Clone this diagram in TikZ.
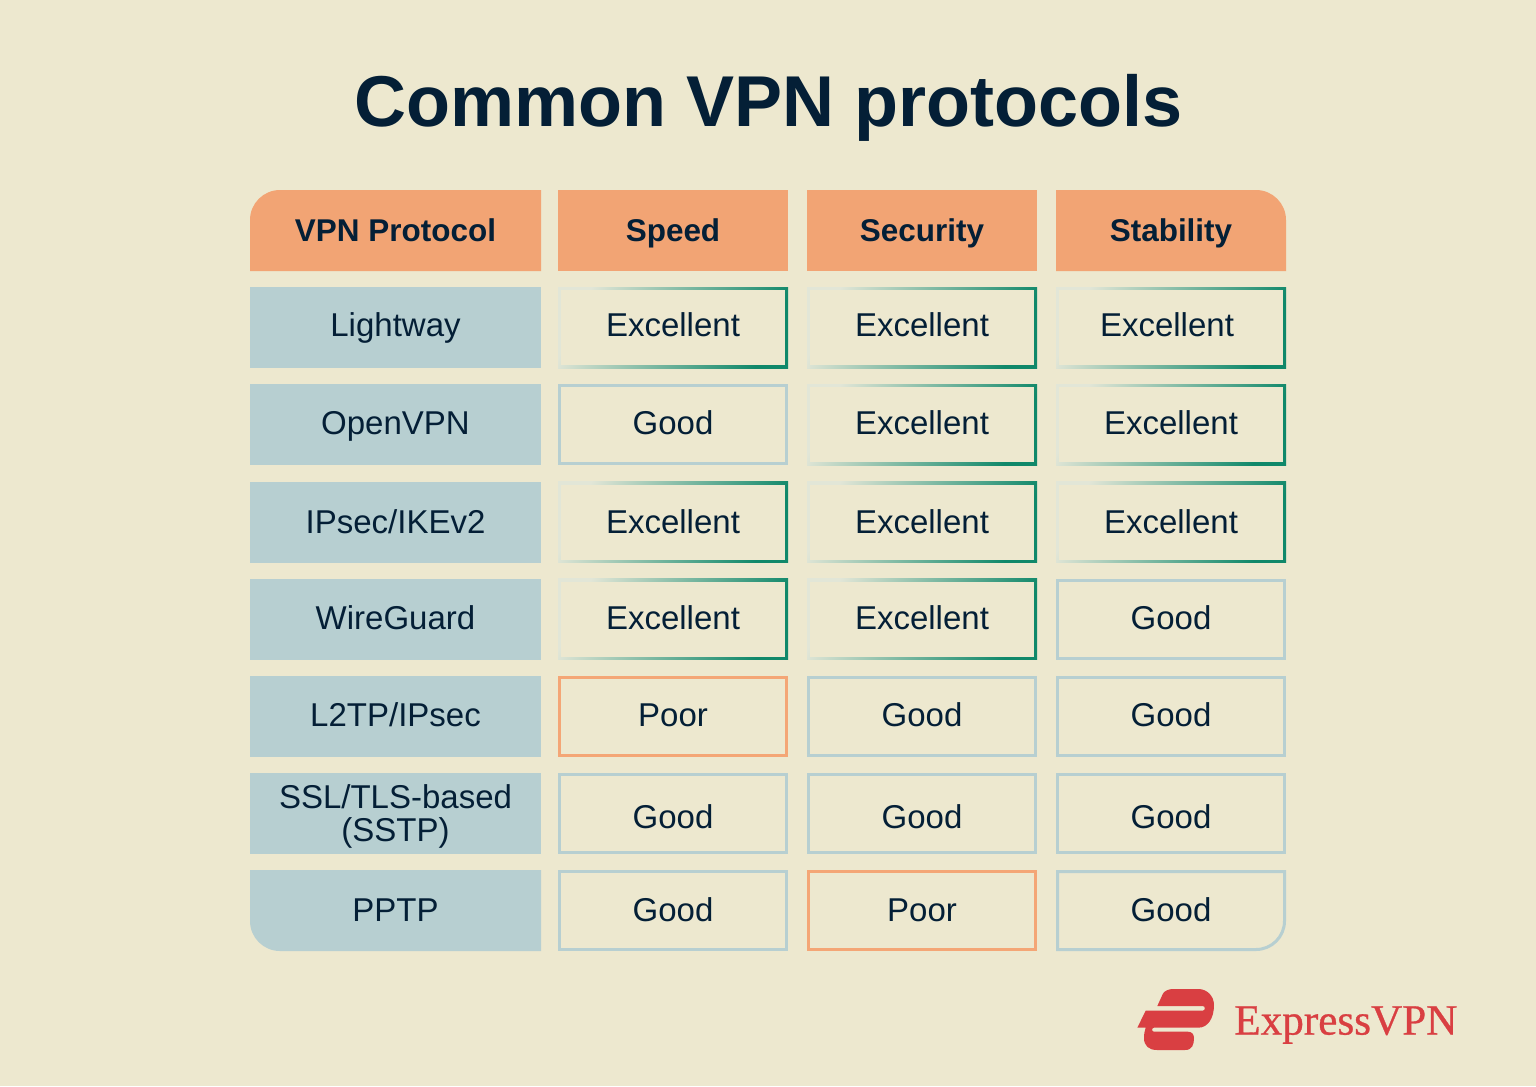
\documentclass[tikz,border=0pt]{standalone}
\usepackage{fontspec}
\setmainfont{Liberation Sans}
\newfontfamily\logofont[FakeBold=0.7]{Liberation Serif}
\definecolor{paper}{RGB}{237,232,207}
\definecolor{ink}{RGB}{4,31,54}
\definecolor{headfill}{RGB}{242,164,116}
\definecolor{namefill}{RGB}{183,207,209}
\definecolor{poorline}{RGB}{244,166,118}
\definecolor{excdark}{RGB}{16,136,106}
\definecolor{excmid}{RGB}{70,160,128}
\definecolor{excpale}{RGB}{226,230,215}
\definecolor{logored}{RGB}{217,63,66}
\tikzset{
  celltext/.style={text=ink,inner sep=0pt,outer sep=0pt,font=\fontsize{24.75}{25}\selectfont,align=center},
  rowtext/.style={celltext,text height=18pt,text depth=#1},
  rowtext/.default=0pt,
  headtext/.style={celltext,font=\fontsize{23.6}{25}\selectfont\bfseries,text height=17.2pt,text depth=0pt},
  headcell/.style={headtext,fill=headfill,minimum width=172.5pt,minimum height=60.75pt},
  namecell/.style={rowtext=#1,fill=namefill,minimum width=218.25pt,minimum height=60.75pt},
  goodcell/.style={rowtext=#1,draw=namefill,line width=2.25pt,minimum width=170.25pt,minimum height=58.5pt},
  poorcell/.style={rowtext=#1,draw=poorline,line width=2.25pt,minimum width=170.25pt,minimum height=58.5pt},
  exccell/.style={rowtext=#1,minimum width=172.5pt,minimum height=60.75pt,
    left color=excpale,middle color=excmid,right color=excdark,shading angle=65,
    path picture={\fill[paper] ([xshift=2.25pt,yshift=-2.25pt]path picture bounding box.north west) rectangle ([xshift=-2.25pt,yshift=2.25pt]path picture bounding box.south east);}},
}
\begin{document}
\begin{tikzpicture}[x=0.75pt,y=0.75pt,yscale=-1,xscale=1]
\useasboundingbox (0,0) rectangle (1536,1086);
\fill[paper] (0,0) rectangle (1536,1086);

% Title
\node (title) [text=ink,inner sep=0pt,font=\fontsize{54}{60}\selectfont\bfseries] at (769,107.5) {Common VPN protocols};

%Shape: Header corner left
\fill[headfill] (250,271) -- (250,220) .. controls (250,203.43) and (263.43,190) .. (280,190) -- (541,190) -- (541,271) -- cycle ;
%Shape: Header corner right
\fill[headfill] (1056,271) -- (1056,190) -- (1256,190) .. controls (1272.57,190) and (1286,203.43) .. (1286,220) -- (1286,271) -- cycle ;
%Shape: Bottom corner left
\fill[namefill] (250,870) -- (541,870) -- (541,951) -- (280,951) .. controls (263.43,951) and (250,937.57) .. (250,921) -- cycle ;
%Shape: Bottom corner right
\draw[namefill,line width=2.25pt] (1057.5,871.5) -- (1284.5,871.5) -- (1284.5,921) .. controls (1284.5,936.74) and (1271.74,949.5) .. (1256,949.5) -- (1057.5,949.5) -- cycle ;

% Header row
\node (headprotocol) [headtext] at (395.5,230.5) {VPN Protocol};
\node (headspeed) [headcell] at (673,230.5) {Speed};
\node (headsecurity) [headcell] at (922,230.5) {Security};
\node (headstability) [headtext] at (1171,230.5) {Stability};

% Lightway
\node (lightway) [namecell=4.5pt] at (395.5,327.5) {Lightway};
\node (lightwayspeed) [exccell=4.5pt] at (673,327.5) {Excellent};
\node (lightwaysecurity) [exccell=4.5pt] at (922,327.5) {Excellent};
\node (lightwaystability) [exccell=4.5pt] at (1171,327.5) {Excellent\hspace*{6pt}};

% OpenVPN
\node (openvpn) [namecell=3.75pt] at (395.5,424.5) {OpenVPN};
\node (openvpnspeed) [goodcell=3.75pt] at (673,424.5) {Good};
\node (openvpnsecurity) [exccell=3.75pt] at (922,424.5) {Excellent};
\node (openvpnstability) [exccell=3.75pt] at (1171,424.5) {Excellent};

% IPsec/IKEv2
\node (ikev) [namecell=1.5pt] at (395.5,522) {IPsec/IKEv2};
\node (ikevspeed) [exccell=1.5pt] at (673,522) {Excellent};
\node (ikevsecurity) [exccell=1.5pt] at (922,522) {Excellent};
\node (ikevstability) [exccell=1.5pt] at (1171,522) {Excellent};

% WireGuard
\node (wireguard) [namecell=3pt] at (395.5,619) {WireGuard};
\node (wireguardspeed) [exccell=3pt] at (673,619) {Excellent};
\node (wireguardsecurity) [exccell=3pt] at (922,619) {Excellent};
\node (wireguardstability) [goodcell=3pt] at (1171,619) {Good};

% L2TP/IPsec
\node (ltp) [namecell=3pt] at (395.5,716) {L2TP/IPsec};
\node (ltpspeed) [poorcell=3pt] at (673,716) {Poor};
\node (ltpsecurity) [goodcell=3pt] at (922,716) {Good};
\node (ltpstability) [goodcell=3pt] at (1171,716) {Good};

% SSL/TLS-based (SSTP)
\node (sstp) [celltext,fill=namefill,minimum width=218.25pt,minimum height=60.75pt] at (395.5,813.5) {\rule{0pt}{22.5pt}SSL/TLS-based\\(SSTP)};
\node (sstpspeed) [goodcell=0pt,text height=22pt] at (673,813.5) {Good};
\node (sstpsecurity) [goodcell=0pt,text height=22pt] at (922,813.5) {Good};
\node (sstpstability) [goodcell=0pt,text height=22pt] at (1171,813.5) {Good};

% PPTP
\node (pptp) [rowtext=1.5pt] at (395.5,910.5) {PPTP};
\node (pptpspeed) [goodcell=1.5pt] at (673,910.5) {Good};
\node (pptpsecurity) [poorcell=1.5pt] at (922,910.5) {Poor};
\node (pptpstability) [rowtext=1.5pt] at (1171,910.5) {Good};

%Shape: Logo
\fill[logored] (1157.3,1006) -- (1163,993.5) .. controls (1165,990.5) and (1169,989) .. (1173.3,989) -- (1198.3,989) .. controls (1207,989) and (1214,996) .. (1214,1005) .. controls (1214,1018) and (1208,1027.7) .. (1198.3,1027.7) -- (1154,1027.7) .. controls (1151.5,1027.7) and (1151.5,1031.7) .. (1154,1031.7) -- (1188,1031.7) .. controls (1192,1031.7) and (1194,1034.5) .. (1194,1038) .. controls (1194,1045) and (1192,1050) .. (1185,1050) -- (1157,1050) .. controls (1149,1050) and (1144,1046) .. (1144,1038) .. controls (1144,1033) and (1145,1030) .. (1145.7,1027.7) -- (1137.3,1027.7) -- (1145.7,1010.7) -- (1202.7,1010.7) .. controls (1205.5,1010.7) and (1205.5,1006) .. (1202.7,1006) -- cycle ;
\node (logotext) [anchor=west,inner sep=0pt,text=logored,font=\logofont\fontsize{32.4}{36}\selectfont] at (1234,1025) {ExpressVPN};
\end{tikzpicture}
\end{document}
